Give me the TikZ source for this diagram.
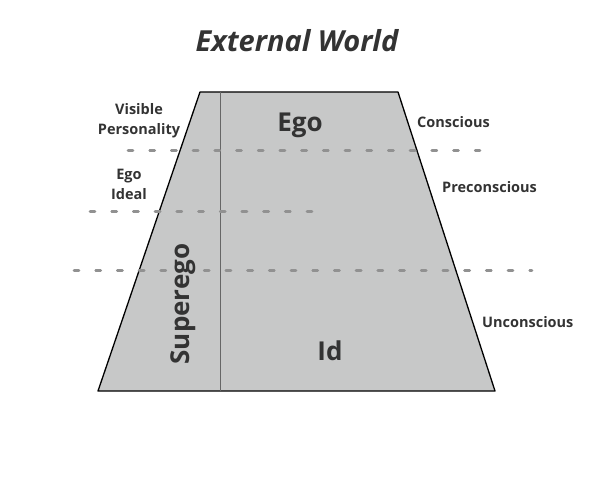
\documentclass[tikz,border=0pt]{standalone}
\usepackage{fontspec}
\setmainfont{Open Sans}
\usetikzlibrary{positioning}
\definecolor{mindFill}{RGB}{199,200,200}
\definecolor{textGray}{RGB}{51,51,51}
\definecolor{dotGray}{RGB}{145,145,145}
\tikzset{%
  % Specifications for style of texts and lines:
            base/.style = {inner sep=0pt, text=textGray},
            levelText/.style = {base, align=center,
                                font=\fontsize{14.5bp}{20bp}\selectfont\bfseries},
            partText/.style = {base, font=\fontsize{26bp}{30bp}\selectfont\bfseries},
            titleText/.style = {base, font=\fontsize{29bp}{34bp}\selectfont\bfseries\itshape},
            boundary/.style = {draw=dotGray, line width=2.8bp, line cap=round,
                               dash pattern=on 5bp off 16.7bp},
 }

\begin{document}
\begin{tikzpicture}[x=1bp, y=-1bp]
  \useasboundingbox (0,0) rectangle (595,500);
  % Mind as a trapezoid
     \filldraw[fill=mindFill, draw=black, line width=1.3bp, line join=round]
       (200,92) -- (398,92) -- (495,391) -- (98,391) -- cycle;
     \draw[draw=black!60, line width=1bp] (220,92) -- (220,391);

  % Levels
     \draw[boundary] (128,150.5) -- (480,150.5);
     \draw[boundary] (90,211.5) -- (312,211.5);
     \draw[boundary] (74,270.5) -- (532,270.5);

  % Texts
     \node (world) [titleText, anchor=base] at (297,52) {External World};
     \node (visible) [levelText, anchor=base] at (139,135) {Visible\\Personality};
     \node (egoIdeal) [levelText, anchor=base] at (129,200) {Ego\\Ideal};
     \node (conscious) [levelText, anchor=base west] at (417,128) {Conscious};
     \node (preconscious) [levelText, anchor=base west] at (442,193) {Preconscious};
     \node (unconscious) [levelText, anchor=base west] at (482,327) {Unconscious};
     \node (ego) [partText, anchor=base] at (300,132) {Ego};
     \node (id) [partText, anchor=base] at (330,360) {Id};
     \node (superego) [partText, anchor=base, rotate=90] at (189,304) {Superego};

   \end{tikzpicture}
\end{document}
